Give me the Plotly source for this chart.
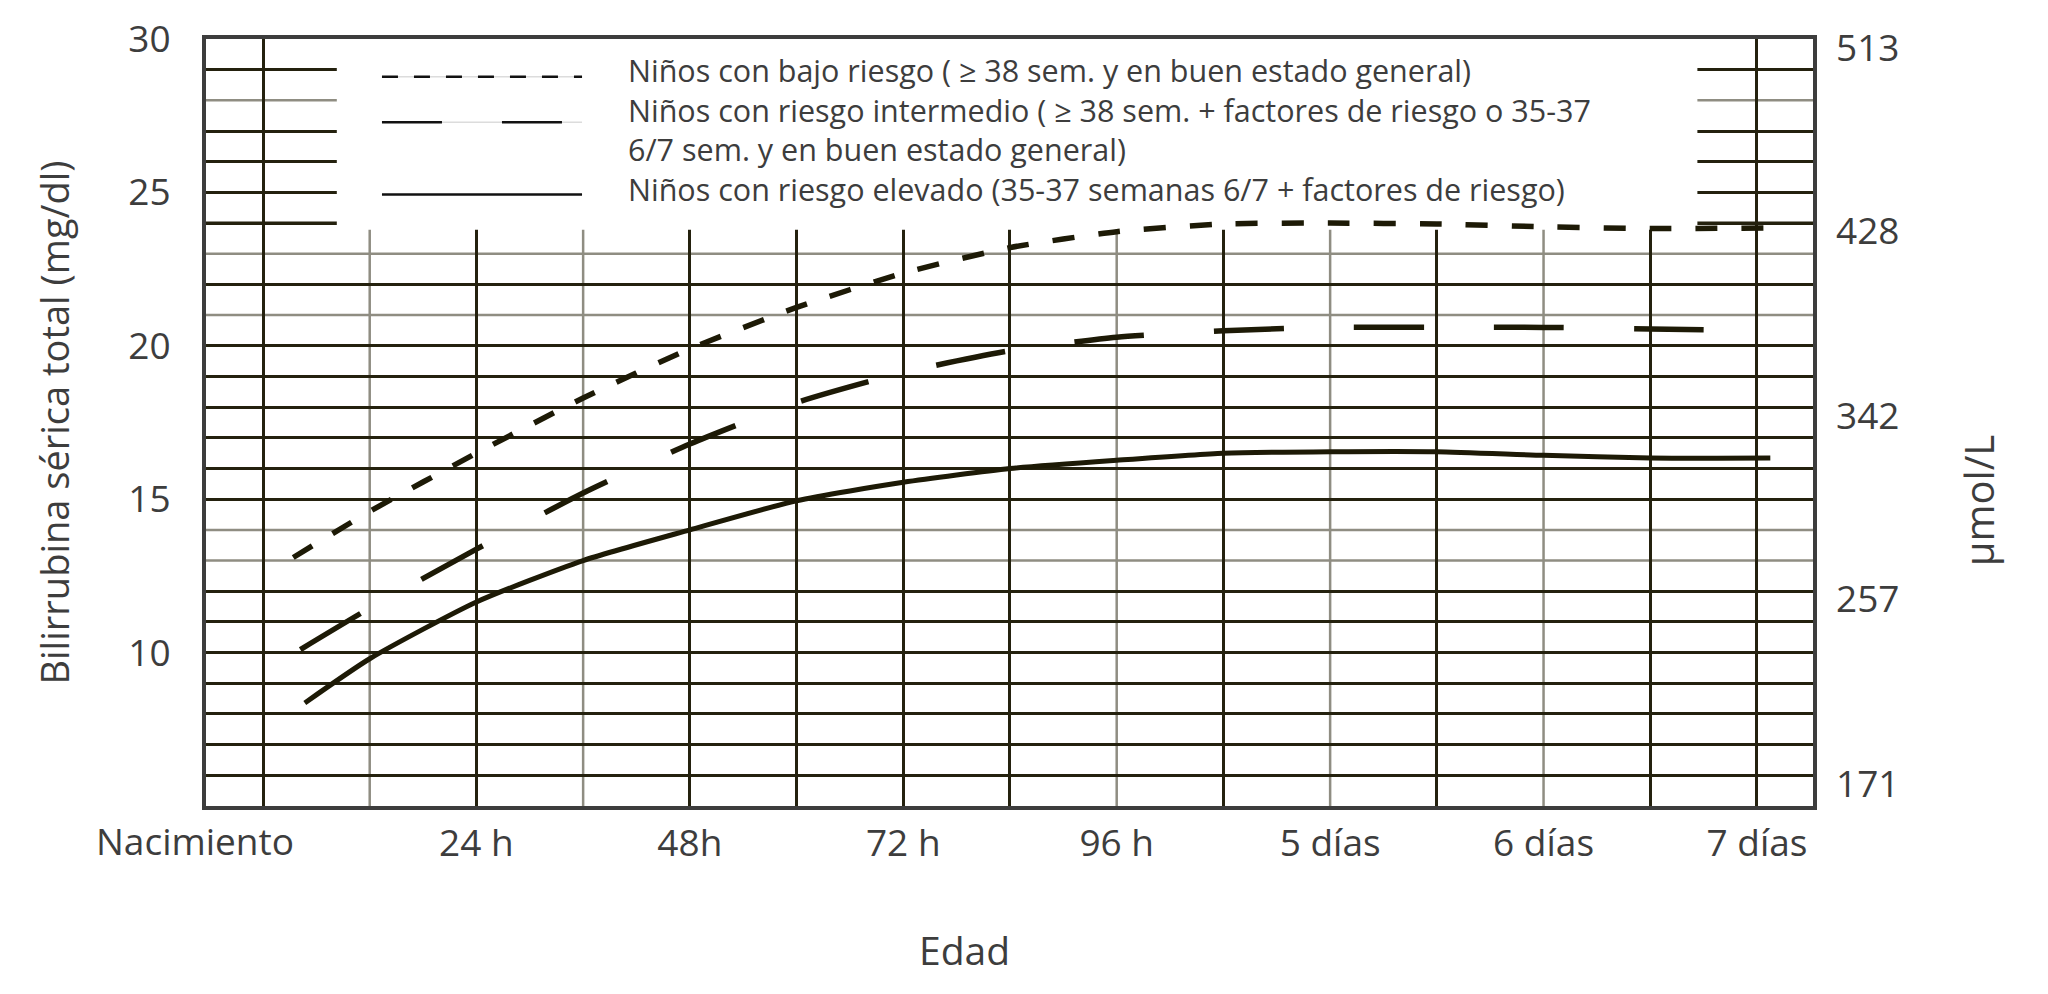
import plotly.graph_objects as go

# curves: hours after birth vs total serum bilirubin (mg/dl)
hours_low = [3.4, 12, 24, 36, 48, 60, 72, 84, 96, 108, 120, 132, 144, 156, 169.5]
bili_low = [13.1, 14.6, 16.5, 18.3, 19.9, 21.25, 22.37, 23.2, 23.72, 23.97, 24.0, 23.97, 23.88, 23.82, 23.84]

hours_mid = [4.2, 12, 24, 36, 48, 60, 72, 84, 96, 108, 120, 132, 144, 156, 169.3]
bili_mid = [10.1, 11.45, 13.37, 15.2, 16.8, 18.15, 19.13, 19.84, 20.28, 20.49, 20.6, 20.6, 20.6, 20.55, 20.5]

hours_high = [4.7, 12, 24, 36, 48, 60, 72, 84, 96, 108, 120, 132, 144, 156, 169.5]
bili_high = [8.36, 9.8, 11.65, 13.0, 14.0, 14.95, 15.55, 16.0, 16.27, 16.5, 16.55, 16.55, 16.43, 16.34, 16.34]

label_hours = [24, 48, 72, 96, 120, 144, 168]
hour_labels = ["24 h", "48h", "72 h", "96 h", "5 días", "6 días", "7 días"]
grid_hours = list(range(0, 169, 12))
bili_ticks = [10, 15, 20, 25, 30]
grid_bili = list(range(5, 31))
umol_ticks = [171, 257, 342, 428, 513]

legend_text = [
    "Niños con bajo riesgo ( ≥ 38 sem. y en buen estado general)",
    "Niños con riesgo intermedio ( ≥ 38 sem. + factores de riesgo o 35-37",
    "6/7 sem. y en buen estado general)",
    "Niños con riesgo elevado (35-37 semanas 6/7 + factores de riesgo)",
]

# the paper grid has a few lighter rules
light_rows = [28, 23, 21, 14, 13]
light_cols = [12, 36, 96, 120, 144]
dark_rows = [v for v in grid_bili if v not in light_rows]
dark_cols = [h for h in grid_hours if h not in light_cols]

ink = "#1d1a06"
rule = "#24210e"
pale = "#8f8d82"
txt = "#3d3d3d"
font = "Open Sans"

fig = go.Figure()

fig.add_trace(go.Scatter(x=hours_low, y=bili_low, mode="lines", hoverinfo="skip",
                         line=dict(color=ink, width=5.5, dash="22px,24px", shape="spline", smoothing=0.6)))
fig.add_trace(go.Scatter(x=hours_mid, y=bili_mid, mode="lines", hoverinfo="skip",
                         line=dict(color=ink, width=5.5, dash="70px,70px", shape="spline", smoothing=0.6)))
fig.add_trace(go.Scatter(x=hours_high, y=bili_high, mode="lines", hoverinfo="skip",
                         line=dict(color=ink, width=5, shape="spline", smoothing=0.6)))
# invisible trace so the µmol/L axis is drawn
fig.add_trace(go.Scatter(x=[grid_hours[0]], y=[umol_ticks[0]], yaxis="y2", mode="markers",
                         marker=dict(opacity=0), hoverinfo="skip"))

shapes = []
for v in light_rows:
    shapes.append(dict(type="line", xref="paper", x0=0, x1=1, y0=v, y1=v,
                       line=dict(color=pale, width=2.5), layer="between"))
for h in light_cols:
    shapes.append(dict(type="line", yref="paper", y0=0, y1=1, x0=h, x1=h,
                       line=dict(color=pale, width=2.5), layer="between"))
# white box behind the key
shapes.append(dict(type="rect", x0=8.3, x1=161.3, y0=23.78, y1=30, fillcolor="white",
                   line=dict(width=0), layer="between"))
shapes.append(dict(type="line", xref="paper", x0=0, x1=1, y0=24, y1=24,
                   line=dict(color=rule, width=3), layer="between"))

# key samples (faint guide under the dashed ones, as in the original)
key_y = [0.9509, 0.8915, 0.7971]
key_dash = ["16px,16px", "60px,60px", "solid"]
for ky, kd in zip(key_y, key_dash):
    if kd != "solid":
        shapes.append(dict(type="line", xref="paper", yref="paper", x0=0.1095, x1=0.234, y0=ky, y1=ky,
                           line=dict(color="#dcdcdc", width=1.5), layer="above"))
    shapes.append(dict(type="line", xref="paper", yref="paper", x0=0.1095, x1=0.234, y0=ky, y1=ky,
                       line=dict(color="#111", width=2.5, dash=kd), layer="above"))

annotations = [dict(text="<br>".join(legend_text), xref="paper", yref="paper", x=0.2614, y=0.8824,
                    xanchor="left", yanchor="middle", align="left", showarrow=False,
                    font=dict(size=30.5, color=txt, family=font))]
annotations.append(dict(text="Nacimiento", xref="x", yref="paper", x=0, y=-0.0452, xshift=-68,
                        xanchor="center", yanchor="middle", showarrow=False,
                        font=dict(size=37, color=txt, family=font)))
annotations.append(dict(text="Edad", xref="paper", yref="paper", x=0.472, y=-0.187,
                        xanchor="center", yanchor="middle", showarrow=False,
                        font=dict(size=39, color=txt, family=font)))
annotations.append(dict(text="µmol/L", xref="paper", yref="paper", x=1.103, y=0.398, textangle=-90,
                        xanchor="center", yanchor="middle", showarrow=False,
                        font=dict(size=40, color=txt, family=font)))

tick_font = dict(size=37, color=txt, family=font)
fig.update_layout(
    width=2048, height=994,
    margin=dict(l=206, r=235, t=32, b=188),
    plot_bgcolor="white", paper_bgcolor="white",
    showlegend=False,
    font=dict(family=font, color=txt),
    shapes=shapes, annotations=annotations,
    xaxis=dict(range=[-6.41, 174.3], tickmode="array", tickvals=label_hours, ticktext=hour_labels,
               showgrid=False, zeroline=False, ticks="", ticklabelstandoff=2, tickfont=tick_font,
               minor=dict(tickmode="array", tickvals=dark_cols, showgrid=True, gridcolor=rule,
                          gridwidth=2.5, ticks=""),
               showline=True, mirror=True, linecolor="#3d3d3d", linewidth=4),
    yaxis=dict(range=[5, 30], tickmode="array", tickvals=bili_ticks,
               showgrid=False, zeroline=False, ticks="", ticklabelstandoff=24, tickfont=tick_font,
               minor=dict(tickmode="array", tickvals=dark_rows, showgrid=True, gridcolor=rule,
                          gridwidth=2.5, ticks=""),
               title=dict(text="Bilirrubina sérica total (mg/dl)",
                          font=dict(size=38, color=txt, family=font), standoff=48),
               showline=True, mirror=True, linecolor="#3d3d3d", linewidth=4),
    yaxis2=dict(range=[160.7, 517.4], overlaying="y", side="right", tickmode="array", tickvals=umol_ticks,
                showgrid=False, zeroline=False, ticks="", ticklabelstandoff=22, tickfont=tick_font),
)

fig.write_html("out.html", config={"displayModeBar": False},
               post_script="document.body.style.margin='0px';")
